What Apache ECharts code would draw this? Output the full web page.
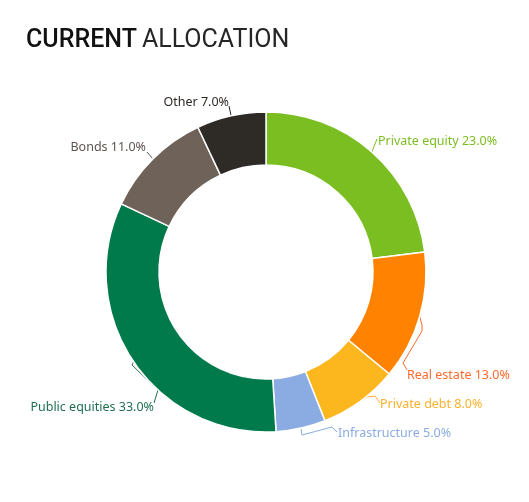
<!DOCTYPE html>
<html><head><meta charset="utf-8">
<script src="https://cdn.jsdelivr.net/npm/echarts@6/dist/echarts.min.js"></script>
<style>html,body{margin:0;padding:0;background:#fff}#c{width:529px;height:502px}</style>
</head><body><div id="c"></div>
<script>
const categories = ['Private equity','Real estate','Private debt','Infrastructure','Public equities','Bonds','Other'];
const values = [23, 13, 8, 5, 33, 11, 7];
const sliceColors = ['#7BBE22','#FF8300','#FDB71E','#8AACE2','#007A4A','#6E6259','#2E2A26'];
const labelColors = ['#7BBE22','#FF6A2E','#FDB12E','#8AACE2','#1F6F4F','#5E5550','#2E2A26'];

// label placement and leader-line bends relative to the label anchor (layout, not data)
const labelPos = [
  {x: 378, y: 141, align: 'left',  bends: [[-1, -2]]},
  {x: 407, y: 375, align: 'left',  bends: [[15, -50], [15, -44], [-4, -12], [0, -5]]},
  {x: 380, y: 404, align: 'left',  bends: [[-13, -7], [-5, -8], [0, -1]]},
  {x: 338, y: 433, align: 'left',  bends: [[-36, 2], [-6, -6], [-1, -1]]},
  {x: 154, y: 407, align: 'right', bends: [[-22, -42], [4, -17], [0, -4]]},
  {x: 146, y: 147, align: 'right', bends: [[1, 5]]},
  {x: 229, y: 102, align: 'right', bends: [[0, 4]]}
];

const chart = echarts.init(document.getElementById('c'));
chart.setOption({
  animation: false,
  title: {
    text: '{b|CURRENT} {n|ALLOCATION}',
    left: 21, top: 23,
    textStyle: {
      rich: {
        b: {fontFamily: 'Roboto', fontSize: 25, fontWeight: 500, color: '#111'},
        n: {fontFamily: 'Roboto', fontSize: 25, fontWeight: 400, color: '#262626'}
      }
    }
  },
  series: [{
    type: 'pie',
    center: [266, 272],
    radius: [107, 160],
    startAngle: 90,
    clockwise: true,
    itemStyle: {borderColor: '#fff', borderWidth: 1.5},
    label: {
      show: true,
      overflow: 'none',
      fontFamily: 'Noto Sans',
      fontSize: 12.5,
      formatter: p => p.name + ' ' + p.value.toFixed(1) + '%'
    },
    labelLine: {length: 8, length2: 4, lineStyle: {width: 1}},
    labelLayout: function (p) {
      const lp = labelPos[p.dataIndex];
      const pts = [p.labelLinePoints[0].slice()];
      lp.bends.forEach(b => pts.push([lp.x + b[0], lp.y + b[1]]));
      return {x: lp.x, y: lp.y, align: lp.align, verticalAlign: 'middle', labelLinePoints: pts};
    },
    data: categories.map((n, i) => ({
      name: n, value: values[i],
      itemStyle: {color: sliceColors[i]},
      label: {color: labelColors[i]},
      labelLine: {lineStyle: {color: labelColors[i]}}
    }))
  }]
});
</script></body></html>
